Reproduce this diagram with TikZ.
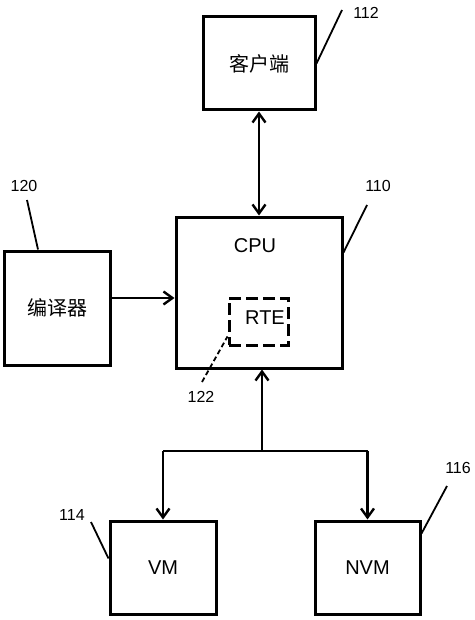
\documentclass[tikz,border=0pt]{standalone}
\usepackage{fontspec}
\setmainfont{Liberation Sans}
\newfontfamily\cjk{Noto Sans CJK SC}
\usetikzlibrary{arrows.meta}
\begin{document}
\begin{tikzpicture}[x=1pt,y=-1pt,
  box/.style={draw,line width=3pt,inner sep=0pt},
  txt/.style={font=\fontsize{20}{22}\selectfont},
  ctxt/.style={font=\cjk\fontsize{20}{22}\selectfont},
  lbl/.style={font=\fontsize{16}{18}\selectfont,inner sep=0pt},
  conn/.style={line width=2.4pt,-{Straight Barb[length=9pt,width=13pt]}},
  lead/.style={line width=1.8pt},
]
\useasboundingbox (0,0) rectangle (474,620);
% boxes
\node[box,minimum width=112pt,minimum height=93pt,ctxt] (client) at (259,63.5) {客户端};
\node[box,minimum width=106pt,minimum height=114pt,ctxt] (comp) at (57,308) {编译器};
\node[box,minimum width=166pt,minimum height=151pt] (cpu) at (259,292.5) {};
\node[txt] (cputext) at (255,246) {CPU};
\node[draw,line width=3pt,dash pattern=on 12pt off 5pt,minimum width=59pt,minimum height=47pt,inner sep=0pt] (rte) at (258.5,321.5) {};
\node[txt] (rtetext) at (265,318) {RTE};
\node[box,minimum width=106pt,minimum height=93pt,txt] (vm) at (163,567.5) {VM};
\node[box,minimum width=105pt,minimum height=93pt,txt] (nvm) at (367.5,567.5) {NVM};
% labels
\node[lbl] (l112) at (366,13) {112};
\node[lbl] (l110) at (378,186) {110};
\node[lbl] (l120) at (24,186) {120};
\node[lbl] (l122) at (201,397) {122};
\node[lbl] (l114) at (72,515) {114};
\node[lbl] (l116) at (458,468) {116};
% leader starts
\coordinate (s112) at (342,10);
\coordinate (s110) at (367,205);
\coordinate (s120) at (27,200);
\coordinate (s122) at (202,382);
\coordinate (s114) at (91,522);
\coordinate (s116) at (447,486);
\draw[lead] (s112) -- (client.east);
\draw[lead] (s110) -- ([yshift=40pt]cpu.east);
\draw[lead] (s120) -- ([xshift=-19pt]comp.north);
\draw[lead,dash pattern=on 5pt off 3pt] (s122) -- ([yshift=-15pt]rte.west);
\draw[lead] (s114) -- ([yshift=9pt]vm.west);
\draw[lead] (s116) -- ([yshift=34pt]nvm.east);
% connectors
\draw[conn,{Straight Barb[length=9pt,width=13pt]}-{Straight Barb[length=9pt,width=13pt]}] (client.south) -- (cpu.north);
\draw[conn] ([yshift=10pt]comp.east) -- ([yshift=10pt]comp.east -| cpu.west);
\coordinate (branch) at (262,451);
\draw[conn] (branch) -- (branch |- cpu.south);
\draw[line width=2.4pt] (vm.north |- branch) -- (nvm.north |- branch);
\draw[conn] (vm.north |- branch) -- (vm.north);
\draw[conn] (nvm.north |- branch) -- (nvm.north);
\end{tikzpicture}
\end{document}
